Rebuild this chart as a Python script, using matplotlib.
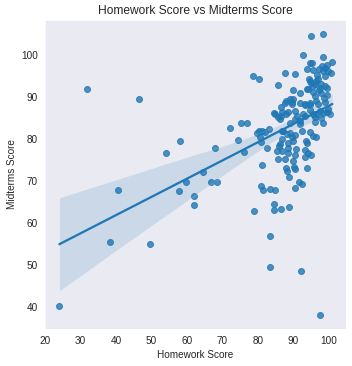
import matplotlib
matplotlib.use("Agg")
import matplotlib.pyplot as plt
import seaborn as sns
import numpy as np
import pandas as pd

homework = [
    24.0, 31.8, 38.3, 40.5, 46.5, 49.6, 54.2, 57.7, 58.0, 59.7,
    62.1, 62.1, 64.6, 67.8, 66.9, 68.6, 72.2, 74.5, 75.3, 76.9,
    76.2, 78.5, 80.2, 79.0, 83.5, 83.5, 92.2, 97.6, 84.6, 84.6,
    86.6, 88.9, 81.1, 81.0, 81.3, 83.5, 84.7, 90.6, 91.7, 92.3,
    88.9, 95.0, 98.4, 92.8, 98.4, 85.8, 87.7, 90.6,
    94.7, 95.2, 93.9, 95.6, 99.4, 101.0, 98.9, 99.8, 100.6, 98.4,
    94.5, 95.1, 96.0, 97.0, 97.9, 97.5, 94.2, 90.0, 98.9, 94.7,
    95.6, 91.8, 93.9, 95.6, 97.9, 99.4, 96.1,
    96.8, 97.3, 98.0, 99.0, 96.4, 97.2, 98.6, 99.6, 96.9, 97.8,
    86.6, 87.9, 89.0, 89.6, 91.9, 93.2, 90.0, 87.6, 89.5, 93.3,
    94.7, 96.5, 98.9, 84.9, 86.4, 87.9, 86.7, 88.6, 90.5, 94.7,
    97.5, 99.4, 100.3, 99.8, 98.4, 95.6, 94.7, 84.6, 90.9, 92.8,
    96.5, 85.8, 90.5, 93.3, 96.1, 86.2, 89.0, 91.9, 96.1, 98.4,
    91.9,
    79.7, 81.1, 83.0, 80.6, 80.8, 82.0, 80.2, 82.5, 87.2, 89.0,
    90.5, 94.7, 95.6, 96.5, 86.7, 88.6, 90.0, 86.7, 88.1, 89.5,
    92.3, 93.7, 86.2, 93.9, 86.0,
    85.3, 86.7, 85.6, 88.6, 88.6, 90.7, 90.5, 93.3, 94.0, 95.0,
    93.3, 90.0, 87.8, 88.1, 90.3, 90.6, 93.9, 87.7,
]
midterms = [
    40.2, 91.9, 55.4, 67.8, 89.5, 54.9, 76.5, 67.5, 79.5, 69.6,
    66.3, 64.2, 72.2, 77.7, 69.6, 69.6, 82.6, 79.8, 83.8, 83.8,
    76.8, 95.0, 94.2, 62.8, 57.0, 49.5, 48.5, 38.1, 64.4, 63.0,
    63.4, 63.7, 73.7, 68.8, 67.7, 68.0, 67.7, 68.4, 69.7, 69.2,
    71.0, 104.5, 104.9, 99.8, 99.5, 92.8, 95.5, 95.3,
    98.1, 98.0, 96.6, 96.4, 97.6, 98.2, 96.8, 96.0, 95.6, 96.0,
    94.2, 93.3, 92.9, 94.3, 93.1, 92.0, 91.8, 91.6, 92.5, 93.7,
    92.5, 90.8, 91.7, 91.0, 90.8, 90.5, 90.1,
    95.2, 96.6, 97.2, 94.8, 93.8, 91.6, 89.6, 92.0, 88.2, 85.0,
    87.6, 88.9, 89.5, 88.7, 88.4, 87.9, 89.4, 88.6, 88.2, 88.2,
    88.6, 89.0, 88.8, 85.9, 85.4, 85.8, 86.3, 86.3, 86.7, 86.8,
    86.5, 86.3, 85.8, 87.0, 86.2, 85.8, 87.9, 86.0, 85.4, 85.8,
    85.8, 85.1, 84.7, 85.5, 85.1, 84.6, 83.8, 84.2, 84.0, 83.8,
    83.5,
    81.4, 81.8, 82.4, 80.5, 79.2, 81.5, 81.9, 77.9, 81.8, 81.4,
    80.8, 81.6, 80.6, 80.3, 80.0, 79.1, 79.5, 81.9, 81.1, 80.5,
    81.9, 79.5, 78.7, 79.1, 78.3,
    77.0, 77.0, 75.3, 77.7, 76.5, 77.5, 76.1, 77.3, 76.7, 76.1,
    75.7, 74.6, 73.1, 72.4, 73.3, 72.7, 73.1, 75.1,
]

df = pd.DataFrame({"Homework Score": homework, "Midterms Score": midterms})

sns.set_style("dark")
plt.rcParams["font.family"] = ["Liberation Sans", "DejaVu Sans"]

fig = plt.figure(figsize=(352 / 72, 366 / 72), dpi=72)
ax = fig.add_axes([45 / 352, 37 / 366, 301 / 352, 309 / 366])
sns.regplot(data=df, x="Homework Score", y="Midterms Score", ax=ax, seed=3)
ax.set_title("Homework Score vs Midterms Score", fontsize=12)
ax.set_xlabel("Homework Score", fontsize=10)
ax.set_ylabel("Midterms Score", fontsize=10)
ax.set_xticks(np.arange(20, 101, 10))
ax.set_yticks(np.arange(40, 101, 10))
ax.tick_params(labelsize=10)
ax.set_xlim(19.95, 104.85)
ax.set_ylim(34.8, 108.2)
fig.savefig("out.png", dpi=72)
